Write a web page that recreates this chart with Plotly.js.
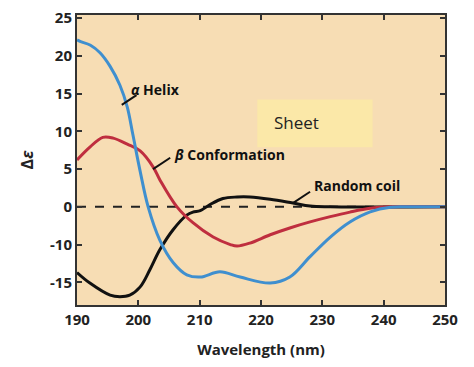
<!DOCTYPE html>
<html>
<head>
<meta charset="utf-8">
<script src="https://cdn.plot.ly/plotly-3.0.1.min.js"></script>
<style>html,body{margin:0;padding:0;background:#fff;}#chart{width:474px;height:367px;}</style>
</head>
<body>
<div id="chart"></div>
<script>
// Wavelength (nm) and Δε readings (linear axis units; tick labels below 0 follow the original figure)
const helixX = [190, 190.5, 192.2, 193.75, 195.4, 197.0, 198.2, 199.1, 200.3, 201.6, 203.5, 205.7, 207.9, 210.1, 213.3, 216.6, 221.5, 224.7, 228.0, 231.3, 234.5, 237.8, 241.1, 244.3, 250];
const helixY = [22.1, 21.9, 21.4, 20.4, 18.6, 16.1, 13.2, 9.6, 4.7, 0, -4.4, -7.4, -9.0, -9.3, -8.6, -9.3, -10.1, -9.3, -6.6, -4.0, -2.0, -0.66, -0.05, 0, 0];

const betaX = [190, 192.1, 194.2, 195.9, 198.2, 200.3, 202.4, 203.5, 206.3, 208.9, 212.2, 215.0, 216.1, 218.2, 221.5, 224.7, 228.0, 231.3, 234.5, 237.8, 241.1, 250];
const betaY = [6.2, 7.9, 9.2, 9.1, 8.3, 7.4, 5.3, 3.6, 0, -2.1, -4.0, -5.0, -5.2, -4.8, -3.7, -2.8, -2.0, -1.3, -0.7, -0.2, 0, 0];

const coilX = [190, 192.1, 195.4, 197.0, 198.6, 200.3, 201.9, 203.5, 205.7, 207.9, 208.9, 210.1, 211.7, 213.8, 216.1, 218.2, 221.5, 225.2, 228.0, 231.3, 250];
const coilY = [-8.7, -10.1, -11.7, -11.9, -11.7, -10.6, -8.3, -5.7, -3.0, -1.1, -0.7, -0.5, 0.3, 1.1, 1.3, 1.3, 1.0, 0.5, 0.1, 0, 0];

const xTickVals = [190, 200, 210, 220, 230, 240, 250];
const yTickVals = [-10, -5, 0, 5, 10, 15, 20, 25];
const yTickText = ["-15", "-10", "0", "5", "10", "15", "20", "25"];

const seriesNames = ["α Helix", "β Conformation", "Random coil"];
const boxLabel = "Sheet";

const lineW = 3;
const traces = [
  {x: coilX, y: coilY, name: seriesNames[2], mode: "lines", line: {color: "#111111", width: lineW, shape: "spline", smoothing: 1}},
  {x: betaX, y: betaY, name: seriesNames[1], mode: "lines", line: {color: "#BF2E3F", width: lineW, shape: "spline", smoothing: 1}},
  {x: helixX, y: helixY, name: seriesNames[0], mode: "lines", line: {color: "#3F8FCF", width: lineW, shape: "spline", smoothing: 1}}
];

const fontFam = "Open Sans, Liberation Sans, sans-serif";
const axisCommon = {
  showline: true, linecolor: "#333333", linewidth: 2, mirror: "ticks",
  ticks: "inside", ticklen: 5, tickwidth: 2, tickcolor: "#333333",
  showgrid: false, zeroline: false,
  tickfont: {family: fontFam, size: 15, color: "#222222", weight: 700}
};

const layout = {
  width: 474, height: 367,
  margin: {l: 77, r: 29, t: 15, b: 62},
  paper_bgcolor: "#ffffff",
  plot_bgcolor: "#F7DDB4",
  showlegend: false,
  xaxis: Object.assign({}, axisCommon, {
    range: [190, 250], tickvals: xTickVals,
    title: {text: "Wavelength (nm)", font: {family: fontFam, size: 15, color: "#222222", weight: 700}, standoff: 16}
  }),
  yaxis: Object.assign({}, axisCommon, {
    range: [-13, 25.4], tickvals: yTickVals, ticktext: yTickText,
    title: {text: "Δ<i>ε</i>", font: {family: fontFam, size: 16, color: "#222222", weight: 700}, standoff: 12}
  }),
  shapes: [
    {type: "rect", xref: "x", yref: "y", x0: 219.4, x1: 238.2, y0: 7.9, y1: 14.2, fillcolor: "#FBE8A8", line: {width: 0}, layer: "below"},
    {type: "line", xref: "paper", yref: "y", x0: 0, x1: 1, y0: 0, y1: 0, line: {color: "#222222", width: 2, dash: "dash"}, layer: "below"},
    {type: "line", xref: "x", yref: "y", x0: 197.3, y0: 13.5, x1: 199.7, y1: 14.8, line: {color: "#111111", width: 2}},
    {type: "line", xref: "x", yref: "y", x0: 202.4, y0: 5.0, x1: 205.2, y1: 6.5, line: {color: "#111111", width: 2}},
    {type: "line", xref: "x", yref: "y", x0: 225.2, y0: 0.5, x1: 228.0, y1: 2.0, line: {color: "#111111", width: 2}}
  ],
  annotations: [
    {x: 198.5, y: 15.6, xref: "x", yref: "y", xanchor: "left", yanchor: "middle", showarrow: false,
     text: "<i>α</i> Helix", font: {family: fontFam, size: 14, color: "#111111", weight: 700}},
    {x: 205.5, y: 6.9, xref: "x", yref: "y", xanchor: "left", yanchor: "middle", showarrow: false,
     text: "<i>β</i> Conformation", font: {family: fontFam, size: 14, color: "#111111", weight: 700}},
    {x: 228.3, y: 2.8, xref: "x", yref: "y", xanchor: "left", yanchor: "middle", showarrow: false,
     text: "Random coil", font: {family: fontFam, size: 14, color: "#111111", weight: 700}},
    {x: 221.8, y: 11.1, xref: "x", yref: "y", xanchor: "left", yanchor: "middle", showarrow: false,
     text: boxLabel, font: {family: fontFam, size: 17, color: "#222222"}}
  ]
};

Plotly.newPlot("chart", traces, layout, {displayModeBar: false, staticPlot: true});
</script>
</body>
</html>
